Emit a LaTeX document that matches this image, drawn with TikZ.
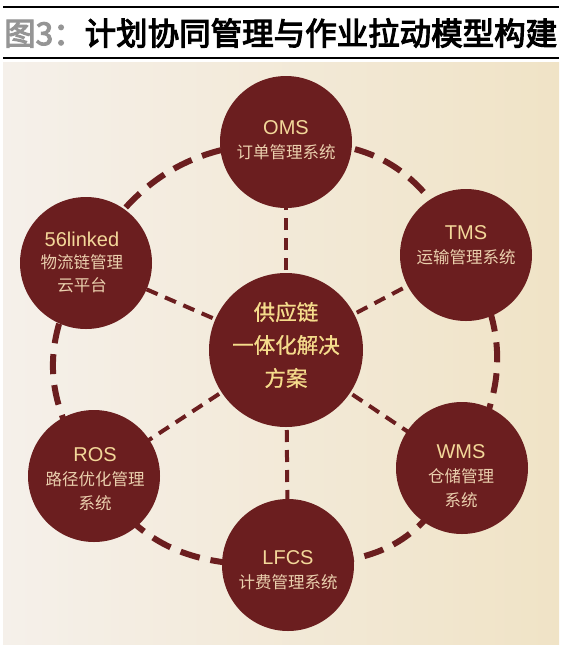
\documentclass[tikz,border=0pt]{standalone}
\usepackage{fontspec}
\setmainfont{Liberation Sans}
\newfontfamily\cjk{Noto Sans CJK SC}
\newfontfamily\cjkbold[FakeBold=3.5]{Noto Sans CJK SC}
\newfontfamily\cjkmid[FakeBold=0.8]{Noto Sans CJK SC}
\usetikzlibrary{calc}
\definecolor{maroon}{HTML}{6B1E1F}
\definecolor{goldA}{HTML}{F3D89A}
\definecolor{goldB}{HTML}{EBD0AE}
\definecolor{goldC}{HTML}{F5DC8C}
\definecolor{bgL}{HTML}{F5F0EA}
\definecolor{bgR}{HTML}{F0E3C6}
\definecolor{titlegray}{HTML}{959595}
\pgfdeclarelayer{bg}
\pgfdeclarelayer{lines}
\pgfsetlayers{bg,lines,main}
\tikzset{
  circ/.style={circle, fill=maroon, draw=none, inner sep=0pt},
  sat/.style={circ, minimum size=132pt},
  hub/.style={circ, minimum size=154pt},
  lat/.style={font=\fontsize{20}{22}\selectfont, text=goldA, inner sep=0pt},
  sub/.style={font=\cjk\fontsize{16.5}{18}\selectfont, text=goldB, inner sep=0pt},
  hubtext/.style={font=\cjkmid\fontsize{21.5}{24}\selectfont, text=goldC, inner sep=0pt},
  ring/.style={draw=maroon, line width=6pt, dash pattern=on 20pt off 11pt},
  spoke/.style={draw=maroon, line width=4pt, dash pattern=on 12pt off 8pt},
  rule/.style={draw=black, line width=1.5pt}
}
\begin{document}
\begin{tikzpicture}[x=1pt,y=-1pt]
\useasboundingbox (0,0) rectangle (563,649);
% title
\coordinate (r1a) at (3,7);
\coordinate (r1b) at (559,7);
\coordinate (r2a) at (3,58);
\coordinate (r2b) at (559,58);
\draw[rule] (r1a) -- (r1b);
\draw[rule] (r2a) -- (r2b);
\node[anchor=west, inner sep=0pt, font=\cjkbold\fontsize{31.5}{33}\selectfont] (title) at (4,33)
  {{\color{titlegray}图3：}计划协同管理与作业拉动模型构建};
% background
\begin{pgfonlayer}{bg}
\shade[left color=bgL, right color=bgR] (3,62) rectangle (559,644);
\end{pgfonlayer}
% circles
\node[hub] (ctr) at (286,350) {};
\node[sat] (oms) at (286,142) {};
\node[sat] (tms) at (466,255) {};
\node[sat] (wms) at (462,468) {};
\node[sat] (lfcs) at (288,565) {};
\node[sat] (ros) at (94,476) {};
\node[sat] (lk) at (86,263) {};
% texts
\node[hubtext] (c1) at (286,312) {供应链};
\node[hubtext] (c2) at (286,345) {一体化解决};
\node[hubtext] (c3) at (286,378) {方案};
\node[lat] (omsA) at (286,128) {OMS};
\node[sub] (omsB) at (286,152) {订单管理系统};
\node[lat] (tmsA) at (466,233) {TMS};
\node[sub] (tmsB) at (466,257) {运输管理系统};
\node[lat] (wmsA) at (461,452) {WMS};
\node[sub] (wmsB) at (461,476) {仓储管理};
\node[sub] (wmsC) at (461,500) {系统};
\node[lat] (lfcsA) at (288,558) {LFCS};
\node[sub] (lfcsB) at (288,582) {计费管理系统};
\node[lat] (rosA) at (95,455) {ROS};
\node[sub] (rosB) at (95,479) {路径优化管理};
\node[sub] (rosC) at (95,503) {系统};
\node[lat] (lkA) at (82,239) {56linked};
\node[sub] (lkB) at (82,262) {物流链管理};
\node[sub] (lkC) at (82,285) {云平台};
% connectors
\begin{pgfonlayer}{lines}
\draw[ring] plot[smooth cycle, tension=0.9] coordinates {(oms.center) (tms.center) (wms.center) (lfcs.center) (ros.center) (lk.center)};
\foreach \s in {oms,tms,wms,lfcs,ros,lk}{
  \draw[spoke] (ctr.center) -- (\s.center);
}
\end{pgfonlayer}
\end{tikzpicture}
\end{document}
